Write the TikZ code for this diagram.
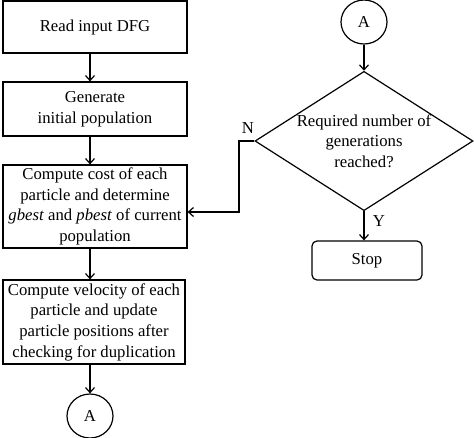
\documentclass[tikz,border=0pt]{standalone}
\usepackage{fontspec}
\setmainfont{Liberation Serif}
\usetikzlibrary{shapes.geometric,arrows.meta}
\begin{document}
\begin{tikzpicture}[x=1pt,y=-1pt,
  every node/.style={font=\fontsize{16.7}{20.7}\selectfont},
  procbox/.style={draw,line width=1.2pt,rectangle,align=center,inner sep=0pt,minimum width=184pt},
  conn/.style={draw,ellipse,line width=1.2pt,minimum width=46pt,minimum height=44pt,inner sep=0pt},
  decide/.style={draw,diamond,line width=1.2pt,aspect=1.565,minimum width=216pt,minimum height=138pt,inner sep=0pt,align=center},
  stopbox/.style={draw,rounded corners=5pt,line width=1.2pt,minimum width=110pt,minimum height=39pt,inner sep=0pt},
  flow/.style={line width=1.2pt,-{Straight Barb[length=5pt,width=9pt]}}]
\useasboundingbox (0,0) rectangle (474,437);
\node[procbox,minimum height=52pt] (b1) at (95,27) {Read input DFG};
\node[procbox,minimum height=54pt] (b2) at (95,109) {Generate\\initial population};
\node[procbox,minimum height=83pt] (b3) at (95,206.5) {Compute cost of each\\particle and determine\\\textit{gbest} and \textit{pbest} of current\\population};
\node[procbox,minimum height=84pt,minimum width=182pt] (b4) at (94,322) {Compute velocity of each\\particle and update\\particle positions after\\checking for duplication};
\node[conn] (a1) at (90,416) {A};
\node[conn] (a2) at (364,22) {A};
\node[decide] (d) at (364,141) {Required number of\\generations\\reached?};
\node[stopbox] (s) at (367,260.5) {Stop};
\node (nl) at (248,128) {N};
\node (yl) at (379,221) {Y};
\coordinate (c1) at (239,141);
\coordinate (c2) at (239,212);
\draw[flow] (b1.south -| a1) -- (b2.north -| a1);
\draw[flow] (b2.south -| a1) -- (b3.north -| a1);
\draw[flow] (b3.south -| a1) -- (b4.north -| a1);
\draw[flow] (b4.south -| a1) -- (a1.north);
\draw[flow] (a2.south) -- (d.north);
\draw[flow] (d.south) -- (s.north -| d);
\draw[flow] (d.west) -- (c1) -- (c2) -- (b3.east |- c2);
\end{tikzpicture}
\end{document}
